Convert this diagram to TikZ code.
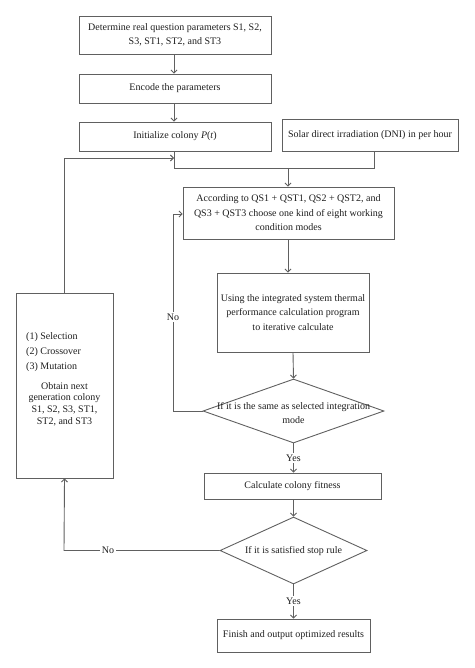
\documentclass[tikz,border=0pt]{standalone}
\usepackage{fontspec}
\setmainfont{Liberation Serif}
\usetikzlibrary{arrows.meta,shapes.geometric}
\definecolor{ln}{HTML}{606060}
\definecolor{tx}{HTML}{1E1E1E}
\begin{document}
\begin{tikzpicture}[x=1pt,y=-1pt,
  box/.style={draw=ln,line width=0.9pt,rectangle,inner sep=0pt,align=center,text=tx,font=\fontsize{10}{14.5}\selectfont},
  dia/.style={draw=ln,line width=0.9pt,diamond,inner sep=0pt},
  txt/.style={text=tx,inner sep=0pt,align=center,font=\fontsize{10}{14}\selectfont},
  lbl/.style={text=tx,fill=white,inner sep=1.5pt,font=\fontsize{10}{12}\selectfont},
  con/.style={draw=ln,line width=0.9pt},
  arr/.style={con,-{Straight Barb[length=3pt,width=6pt]}}]
\useasboundingbox (0,0) rectangle (474,668);
\node[box,minimum width=192pt,minimum height=38pt] (b1) at (175,35) {Determine real question parameters S1, S2,\\S3, ST1, ST2, and ST3};
\node[box,minimum width=192pt,minimum height=29pt] (b2) at (175,88.5) {Encode the parameters};
\node[box,minimum width=192pt,minimum height=29pt] (b3) at (175,136.5) {Initialize colony \textit{P}(\textit{t})};
\node[box,minimum width=176pt,minimum height=32pt] (dni) at (370,135) {Solar direct irradiation (DNI) in per hour};
\node[box,minimum width=211pt,minimum height=52pt] (b4) at (288.5,213) {According to QS1 + QST1, QS2 + QST2, and\\QS3 + QST3 choose one kind of eight working\\condition modes};
\node[box,minimum width=152pt,minimum height=79pt] (b5) at (293,312.5) {Using the integrated system thermal\\performance calculation program\\to iterative calculate};
\node[dia,minimum width=181pt,minimum height=64pt] (d1) at (293.5,411) {};
\node[txt] (d1t) at (293.5,413) {If it is the same as selected integration\\mode};
\node[box,minimum width=177pt,minimum height=26pt] (b6) at (292.5,486) {Calculate colony fitness};
\node[dia,minimum width=147pt,minimum height=67pt] (d2) at (293.5,550.5) {};
\node[txt] (d2t) at (293.5,551) {If it is satisfied stop rule};
\node[box,minimum width=153pt,minimum height=33pt] (b7) at (293.5,635.5) {Finish and output optimized results};
\node[box,minimum width=97pt,minimum height=185pt] (lb) at (64.5,385.5) {};
\node[txt,anchor=west,align=left,font=\fontsize{10}{15}\selectfont] (lbl1) at (26,352) {(1) Selection\\(2) Crossover\\(3) Mutation};
\node[txt,font=\fontsize{10}{11.8}\selectfont] (lbl2) at (64.5,404) {Obtain next\\generation colony\\S1, S2, S3, ST1,\\ST2, and ST3};
\coordinate (j1) at (174,168);
\coordinate (j2) at (374,168);
\coordinate (j3) at (288,168);
\coordinate (m1) at (174,158);
\coordinate (n1) at (173,411);
\coordinate (n2) at (173,214);
\coordinate (n3) at (64,550.5);
\draw[arr] (b1.south -| 174,0) -- (b2.north -| 174,0);
\draw[arr] (b2.south -| 174,0) -- (b3.north -| 174,0);
\draw[con] (b3.south -| 174,0) -- (j1) -- (j2) -- (dni.south -| j2);
\draw[arr] (j3) -- (b4.north -| j3);
\draw[arr] (lb.north) -- (lb.north |- m1) -- (m1);
\draw[arr] (b4.south -| j3) -- (b5.north -| j3);
\draw[arr] (b5.south) -- (d1.north);
\draw[arr] (d1.west) -- (n1) -- (n2) -- (b4.west |- n2);
\node[lbl] (no1) at (173,317) {No};
\draw[arr] (d1.south) -- (b6.north -| d1.south);
\node[lbl] (yes1) at (293.5,458) {Yes};
\draw[arr] (b6.south -| d2.north) -- (d2.north);
\draw[arr] (d2.west) -- (n3) -- (lb.south);
\node[lbl] (no2) at (108,550.5) {No};
\draw[arr] (d2.south) -- (b7.north);
\node[lbl] (yes2) at (293.5,601) {Yes};
\end{tikzpicture}
\end{document}
